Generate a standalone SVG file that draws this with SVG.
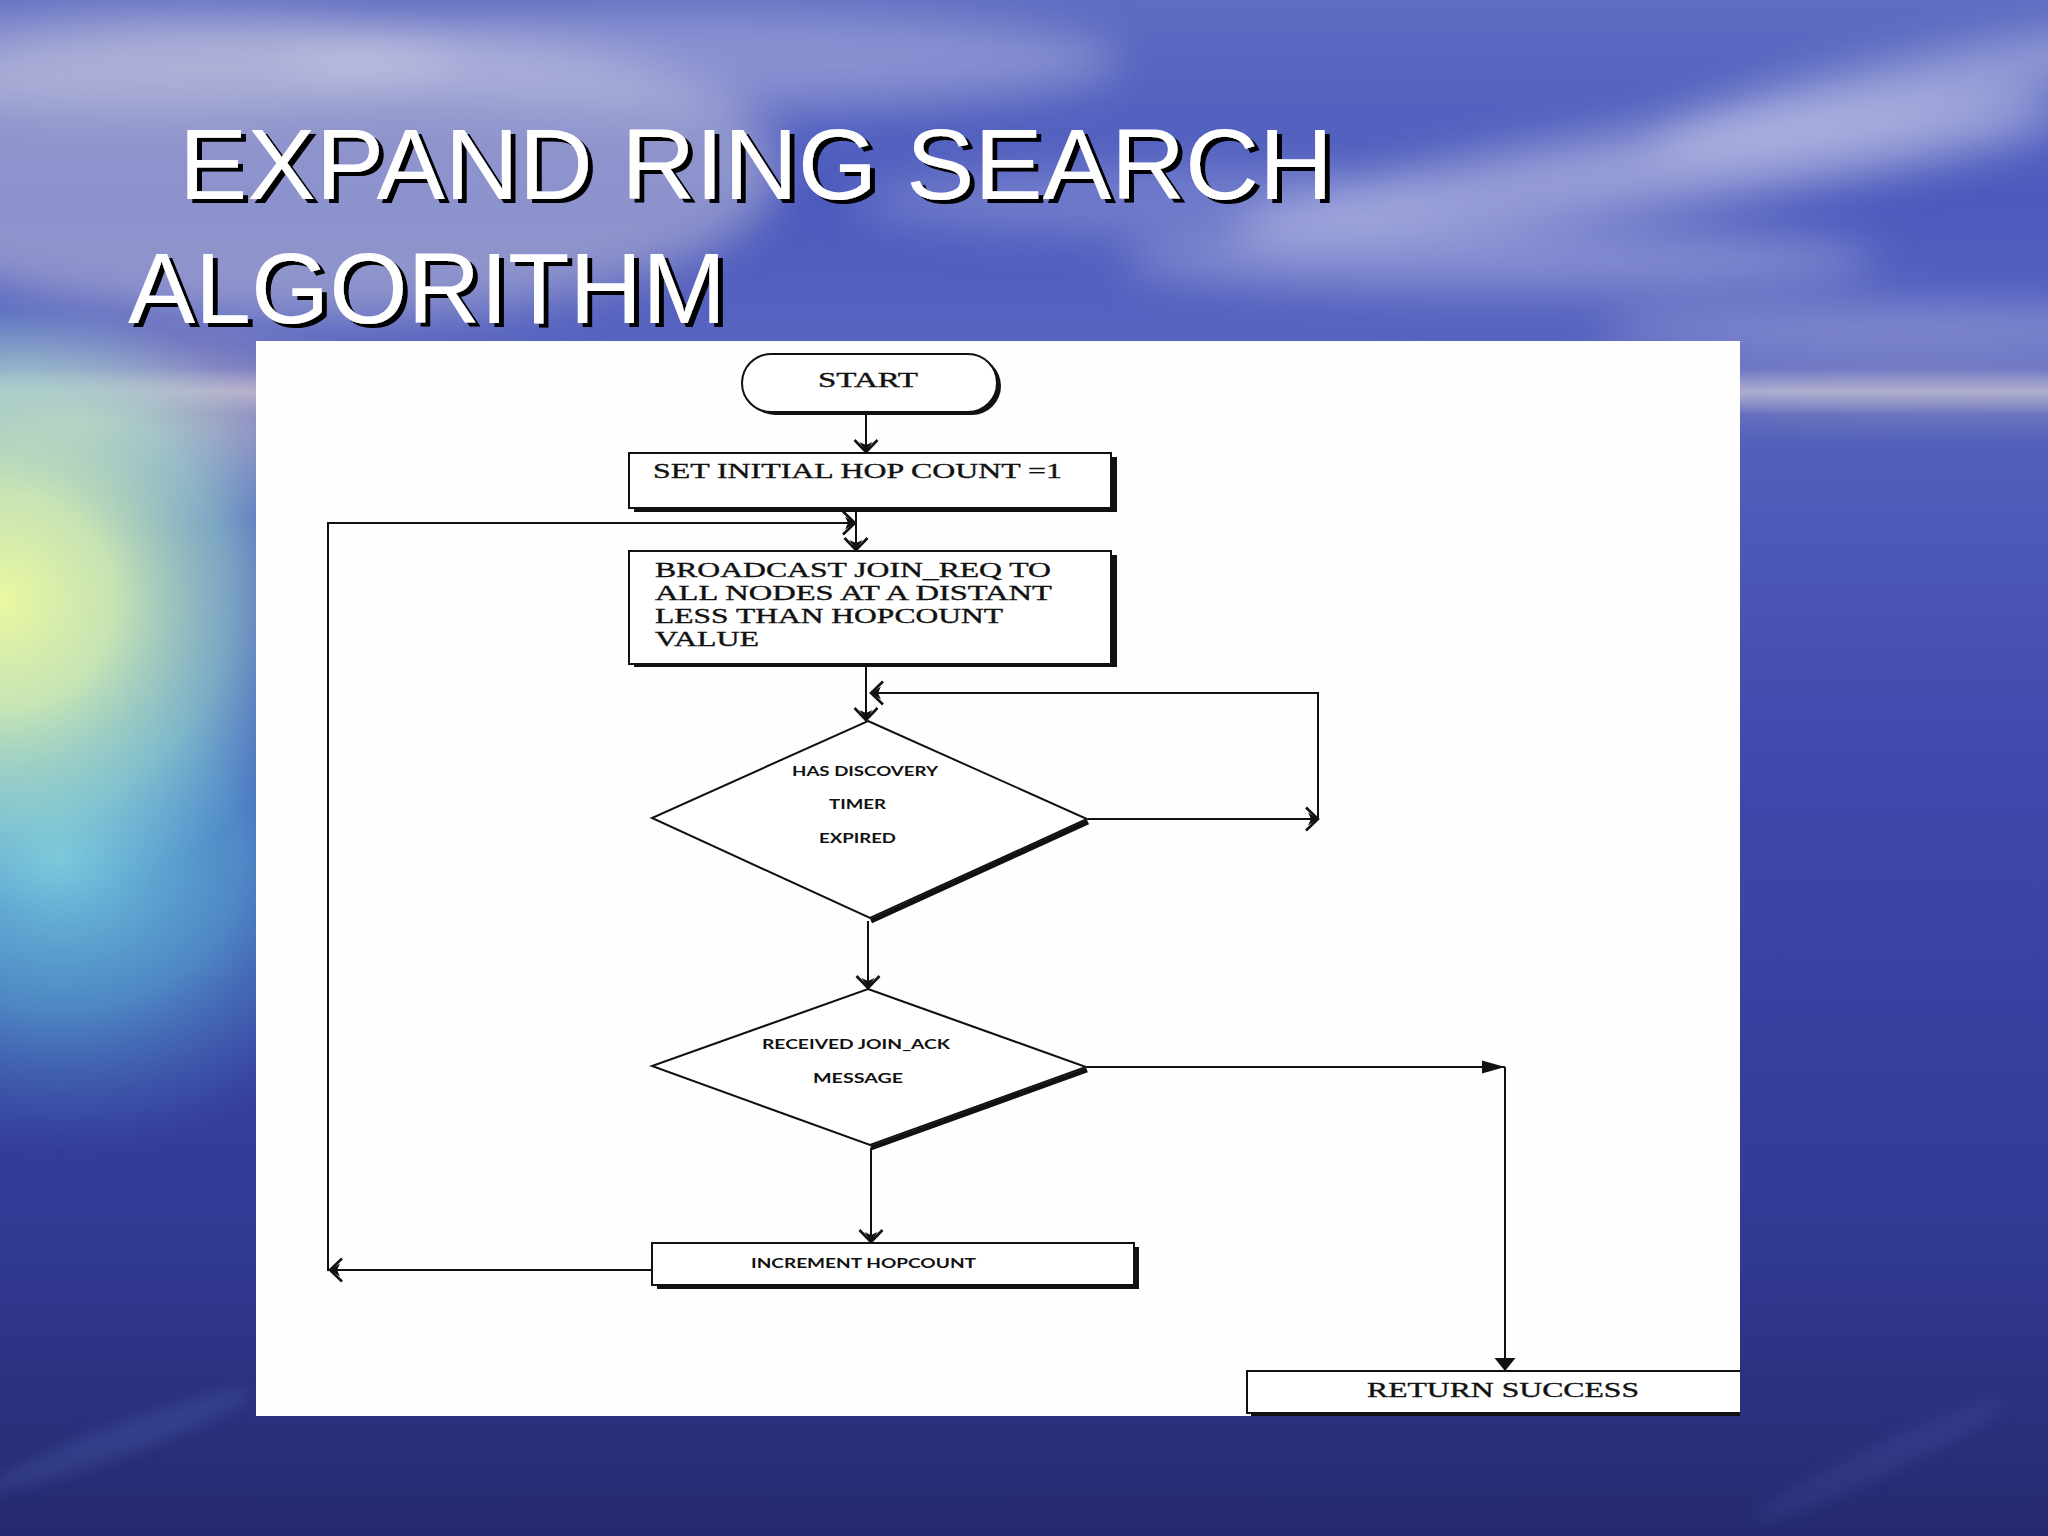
<svg xmlns="http://www.w3.org/2000/svg" width="2048" height="1536" viewBox="0 0 2048 1536">
<defs>
<style>
.title{font-family:"Liberation Sans",Arial,sans-serif;font-size:101px;fill:#fff;}
.serif{font-family:"Liberation Serif","Times New Roman",serif;font-size:21px;fill:#111;stroke:#111;stroke-width:0.35;}
.sans{font-family:Lato,"Liberation Sans",sans-serif;font-weight:bold;font-size:13px;fill:#111;}
.box{fill:#fff;stroke:#111;stroke-width:2;}
.shadow{fill:#111;}
.conn{fill:none;stroke:#111;stroke-width:2;}
</style>
<filter id="tshadow" x="-5%" y="-20%" width="110%" height="140%">
<feDropShadow dx="5" dy="4" stdDeviation="0.6" flood-color="#000" flood-opacity="1"/>
</filter>
<linearGradient id="bg" x1="0" y1="0" x2="0" y2="1">
<stop offset="0" stop-color="#5e6cc2"/>
<stop offset="0.13" stop-color="#4c5abd"/>
<stop offset="0.24" stop-color="#5a66c0"/>
<stop offset="0.255" stop-color="#a6a8d2"/>
<stop offset="0.27" stop-color="#5462bc"/>
<stop offset="0.5" stop-color="#4048ac"/>
<stop offset="0.8" stop-color="#323a94"/>
<stop offset="1" stop-color="#252a6e"/>
</linearGradient>
<radialGradient id="sun" cx="0" cy="0" r="1" gradientUnits="userSpaceOnUse" gradientTransform="translate(0 600) scale(330 310)">
<stop offset="0" stop-color="#eaf8a0"/>
<stop offset="0.35" stop-color="#cdeab4" stop-opacity="0.95"/>
<stop offset="0.7" stop-color="#9cd8cc" stop-opacity="0.6"/>
<stop offset="1" stop-color="#80bcd8" stop-opacity="0"/>
</radialGradient>
<radialGradient id="cyan" cx="0" cy="0" r="1" gradientUnits="userSpaceOnUse" gradientTransform="translate(60 860) scale(360 300)">
<stop offset="0" stop-color="#7ad8e4" stop-opacity="0.9"/>
<stop offset="0.5" stop-color="#5cb6dc" stop-opacity="0.6"/>
<stop offset="1" stop-color="#4a7cc8" stop-opacity="0"/>
</radialGradient>
<radialGradient id="peach" cx="0" cy="0" r="1" gradientUnits="userSpaceOnUse" gradientTransform="translate(80 420) scale(380 110)">
<stop offset="0" stop-color="#dcc8c0" stop-opacity="0.95"/>
<stop offset="1" stop-color="#c0b4cc" stop-opacity="0"/>
</radialGradient>
<filter id="blur" x="-50%" y="-50%" width="200%" height="200%"><feGaussianBlur stdDeviation="22"/></filter>
<filter id="blurS" x="-50%" y="-50%" width="200%" height="200%"><feGaussianBlur stdDeviation="8"/></filter>
<marker id="arrOpen" markerUnits="userSpaceOnUse" markerWidth="30" markerHeight="30" viewBox="-15 -15 30 30" refX="0" refY="0" orient="auto">
<path d="M-12,-11.5 L0,0 L-12,11.5" fill="none" stroke="#111" stroke-width="2.6"/>
<path d="M0,0 L-10,-6.5 L-7,0 L-10,6.5 Z" fill="#111"/>
</marker>
<marker id="arrFillLong" markerUnits="userSpaceOnUse" markerWidth="30" markerHeight="30" viewBox="-26 -15 30 30" refX="0" refY="0" orient="auto">
<path d="M0,0 L-23,-6.5 L-23,6.5 Z" fill="#111"/>
</marker>
<marker id="arrFillShort" markerUnits="userSpaceOnUse" markerWidth="30" markerHeight="30" viewBox="-15 -15 30 30" refX="0" refY="0" orient="auto">
<path d="M0,0 L-13,-10.5 L-13,10.5 Z" fill="#111"/>
</marker>
<clipPath id="panelClip"><rect x="256" y="341" width="1484" height="1075"/></clipPath>
</defs>

<g id="background">
<rect x="0" y="0" width="2048" height="1536" fill="url(#bg)"/>
<g filter="url(#blur)">
<ellipse cx="300" cy="170" rx="480" ry="150" fill="#b8b8d6" opacity="0.6"/>
<ellipse cx="150" cy="60" rx="300" ry="50" fill="#c8c8e0" opacity="0.5"/>
<ellipse cx="700" cy="60" rx="420" ry="50" fill="#d0d0e8" opacity="0.4"/>
<ellipse cx="1650" cy="170" rx="420" ry="40" fill="#dfe0f0" opacity="0.5" transform="rotate(-8 1650 170)"/>
<ellipse cx="1900" cy="90" rx="260" ry="30" fill="#e0e2f2" opacity="0.45" transform="rotate(-12 1900 90)"/>
<ellipse cx="1500" cy="260" rx="380" ry="30" fill="#c8cbe8" opacity="0.45"/>
<ellipse cx="1150" cy="200" rx="300" ry="35" fill="#b8bce4" opacity="0.35"/>
<ellipse cx="1900" cy="330" rx="300" ry="20" fill="#c0c4e6" opacity="0.5"/>
<ellipse cx="1950" cy="395" rx="300" ry="14" fill="#c8c0c8" opacity="0.6"/>
</g>
<rect x="0" y="0" width="2048" height="1536" fill="url(#peach)"/>
<rect x="0" y="0" width="2048" height="1536" fill="url(#cyan)"/>
<rect x="0" y="0" width="2048" height="1536" fill="url(#sun)"/>
<g filter="url(#blurS)" opacity="0.18">
<ellipse cx="120" cy="1440" rx="140" ry="16" fill="#6a8ad8" transform="rotate(-20 120 1440)"/>
<ellipse cx="1880" cy="1460" rx="140" ry="16" fill="#5a6ac0" transform="rotate(-25 1880 1460)"/>
</g>
</g>

<g id="title" filter="url(#tshadow)">
<text class="title" x="179" y="199" textLength="1154" lengthAdjust="spacingAndGlyphs">EXPAND RING SEARCH</text>
<text class="title" x="128" y="323" textLength="598" lengthAdjust="spacingAndGlyphs">ALGORITHM</text>
</g>

<rect id="panel" x="256" y="341" width="1484" height="1075" fill="#fefefe"/>

<g id="connectors">
<path class="conn" d="M866,412 V452" marker-end="url(#arrOpen)"/>
<path class="conn" d="M856,509 V550" marker-end="url(#arrOpen)"/>
<path class="conn" d="M328,1271 V523 H855" marker-end="url(#arrOpen)"/>
<path class="conn" d="M866,666 V720" marker-end="url(#arrOpen)"/>
<path class="conn" d="M1088,819 H1318" marker-end="url(#arrOpen)"/>
<path class="conn" d="M1318,819 V693 H871" marker-end="url(#arrOpen)"/>
<path class="conn" d="M868,921 V988" marker-end="url(#arrOpen)"/>
<path class="conn" d="M1087,1067 H1505" marker-end="url(#arrFillLong)"/>
<path class="conn" d="M1505,1067 V1371" marker-end="url(#arrFillShort)"/>
<path class="conn" d="M871,1148 V1242" marker-end="url(#arrOpen)"/>
<path class="conn" d="M652,1270 H330" marker-end="url(#arrOpen)"/>
</g>

<g id="start">
<rect class="shadow" x="746" y="357" width="255" height="58" rx="29"/>
<rect class="box" x="742" y="354" width="255" height="58" rx="29"/>
<text class="serif" x="818" y="387" textLength="100" lengthAdjust="spacingAndGlyphs">START</text>
</g>

<g id="set-initial">
<rect class="shadow" x="634" y="457" width="483" height="55"/>
<rect class="box" x="629" y="453" width="482" height="55"/>
<text class="serif" x="653" y="478" textLength="409" lengthAdjust="spacingAndGlyphs">SET INITIAL HOP COUNT =1</text>
</g>

<g id="broadcast">
<rect class="shadow" x="634" y="555" width="483" height="112"/>
<rect class="box" x="629" y="551" width="482" height="113"/>
<text class="serif" x="655" y="577" textLength="396" lengthAdjust="spacingAndGlyphs">BROADCAST JOIN_REQ TO</text>
<text class="serif" x="655" y="600" textLength="397" lengthAdjust="spacingAndGlyphs">ALL NODES AT A DISTANT</text>
<text class="serif" x="655" y="623" textLength="348" lengthAdjust="spacingAndGlyphs">LESS THAN HOPCOUNT</text>
<text class="serif" x="655" y="646" textLength="104" lengthAdjust="spacingAndGlyphs">VALUE</text>
</g>

<g id="timer-decision">
<path d="M1088,822 L871,921" stroke="#111" stroke-width="5" fill="none"/>
<polygon class="box" points="868,721 1087,819 870,918 652,818" stroke-width="1.6"/>
<text class="sans" x="792" y="776" textLength="146" lengthAdjust="spacingAndGlyphs">HAS DISCOVERY</text>
<text class="sans" x="829" y="809" textLength="57" lengthAdjust="spacingAndGlyphs">TIMER</text>
<text class="sans" x="819" y="843" textLength="77" lengthAdjust="spacingAndGlyphs">EXPIRED</text>
</g>

<g id="ack-decision">
<path d="M1087,1070 L871,1148" stroke="#111" stroke-width="5" fill="none"/>
<polygon class="box" points="868,989 1086,1067 870,1145 652,1066" stroke-width="1.6"/>
<text class="sans" x="762" y="1049" textLength="188" lengthAdjust="spacingAndGlyphs">RECEIVED JOIN_ACK</text>
<text class="sans" x="813" y="1083" textLength="90" lengthAdjust="spacingAndGlyphs">MESSAGE</text>
</g>

<g id="increment">
<rect class="shadow" x="657" y="1247" width="482" height="42"/>
<rect class="box" x="652" y="1243" width="482" height="42"/>
<text class="sans" x="751" y="1268" textLength="225" lengthAdjust="spacingAndGlyphs">INCREMENT HOPCOUNT</text>
</g>

<g id="return-success" clip-path="url(#panelClip)">
<rect class="shadow" x="1251" y="1375" width="500" height="42"/>
<rect x="1247" y="1371" width="500" height="42" fill="#fff"/>
<path d="M1745,1371 H1247 V1413 H1745" fill="none" stroke="#111" stroke-width="2"/>
<text class="serif" x="1367" y="1397" textLength="272" lengthAdjust="spacingAndGlyphs">RETURN SUCCESS</text>
</g>
</svg>
